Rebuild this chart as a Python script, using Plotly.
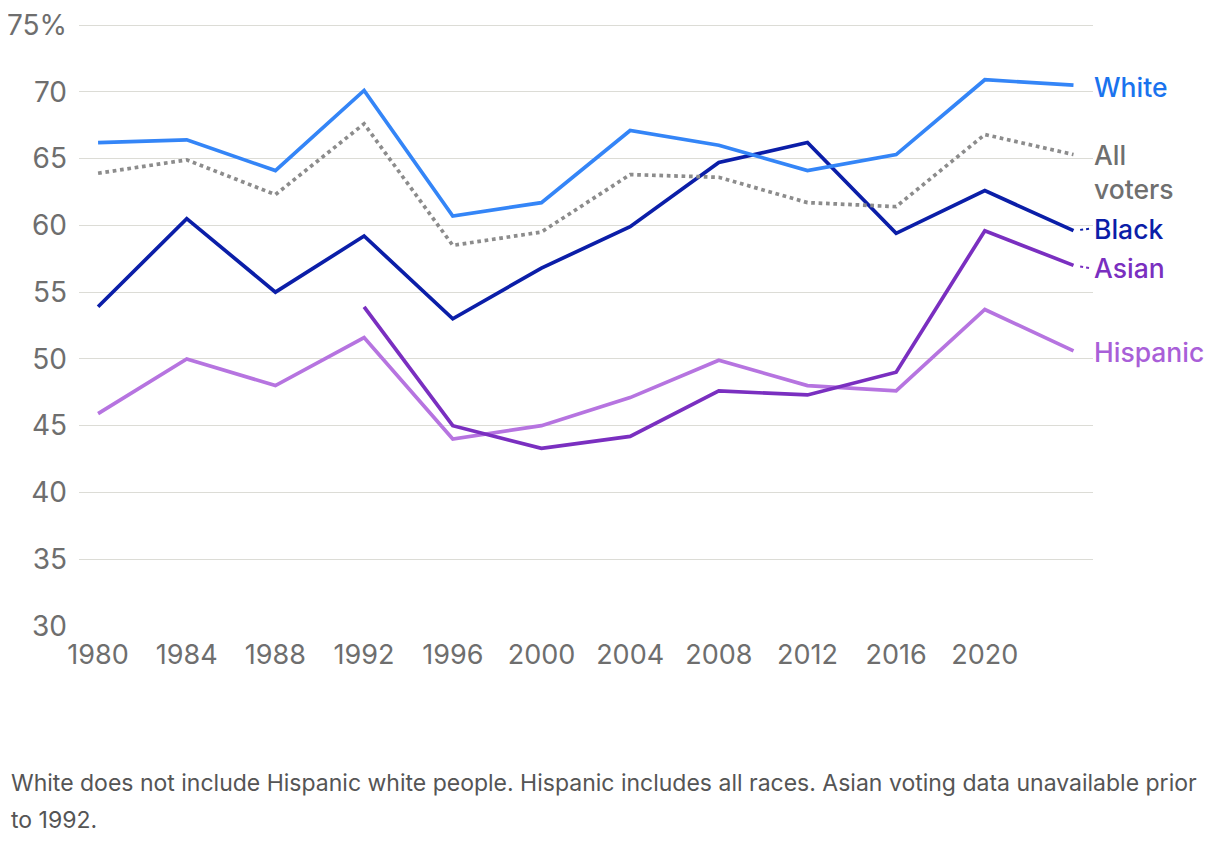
import plotly.graph_objects as go

years = [1980, 1984, 1988, 1992, 1996, 2000, 2004, 2008, 2012, 2016, 2020, 2024]
white = [66.2, 66.4, 64.1, 70.1, 60.7, 61.7, 67.1, 66.0, 64.1, 65.3, 70.9, 70.5]
all_voters = [63.9, 64.9, 62.3, 67.6, 58.5, 59.5, 63.8, 63.6, 61.7, 61.4, 66.8, 65.3]
black = [53.9, 60.5, 55.0, 59.2, 53.0, 56.8, 59.9, 64.7, 66.2, 59.4, 62.6, 59.6]
asian = [None, None, None, 53.9, 45.0, 43.3, 44.2, 47.6, 47.3, 49.0, 59.6, 57.0]
hispanic = [45.9, 50.0, 48.0, 51.6, 44.0, 45.0, 47.1, 49.9, 48.0, 47.6, 53.7, 50.6]

x_ticks = [1980, 1984, 1988, 1992, 1996, 2000, 2004, 2008, 2012, 2016, 2020]
y_ticks = [30, 35, 40, 45, 50, 55, 60, 65, 70, 75]
y_labels = ["30", "35", "40", "45", "50", "55", "60", "65", "70", "75%"]

FONT = "Inter"
C_WHITE = "#3485f7"
C_ALL = "#8c8c8c"
C_BLACK = "#0b1ea8"
C_ASIAN = "#7a2fc0"
C_HISP = "#b674e0"

fig = go.Figure()
series = [
    ("Hispanic", hispanic, C_HISP, "solid"),
    ("Asian", asian, C_ASIAN, "solid"),
    ("Black", black, C_BLACK, "solid"),
    ("All voters", all_voters, C_ALL, "dot"),
    ("White", white, C_WHITE, "solid"),
]
for name, vals, col, dash in series:
    fig.add_trace(go.Scatter(x=years, y=vals, mode="lines", name=name,
                             line=dict(color=col, width=3.7, dash=dash),
                             connectgaps=False, showlegend=False, hoverinfo="skip"))

labels = [
    ("White", 70.35, "#1a73ee"),
    ("All<br>voters", 64.0, "#6f6f6f"),
    ("Black", 59.75, C_BLACK),
    ("Asian", 56.8, C_ASIAN),
    ("Hispanic", 50.5, "#a95fd8"),
]
for text, yv, col in labels:
    fig.add_annotation(x=years[-1], y=yv, xref="x", yref="y", text=text,
                       showarrow=False, xanchor="left", yanchor="middle", xshift=19,
                       align="left",
                       font=dict(family=FONT, size=26.5, color=col, weight=500))

# small dotted connectors for Black and Asian labels
for vals, ly, col in [(black, 59.75, C_BLACK), (asian, 56.8, C_ASIAN)]:
    fig.add_shape(type="line", xref="x", yref="y",
                  x0=years[-1] + 0.3, y0=vals[-1] + (ly - vals[-1]) * 0.4,
                  x1=years[-1] + 0.75, y1=ly,
                  line=dict(color=col, width=2, dash="dot"))

note_lines = [
    "White does not include Hispanic white people. Hispanic includes all races. Asian voting data unavailable prior",
    "to 1992.",
]
for txt, yp in zip(note_lines, [-0.2595, -0.3207]):
    fig.add_annotation(xref="paper", yref="paper", x=-0.069, y=yp,
                       xanchor="left", yanchor="middle", align="left", showarrow=False,
                       text=txt, font=dict(family=FONT, size=23, color="#555555"))

fig.update_layout(
    width=1220, height=848,
    margin=dict(l=71, r=135, t=13, b=230, autoexpand=False),
    paper_bgcolor="white", plot_bgcolor="white",
    font=dict(family=FONT, color="#6e6e6e"),
    xaxis=dict(range=[1979.14, 2024.88], tickvals=x_ticks, ticktext=[str(v) for v in x_ticks],
               showgrid=False, zeroline=False, showline=False, ticks="",
               ticklabelstandoff=10, automargin=False,
               tickfont=dict(family=FONT, size=27, color="#6e6e6e")),
    yaxis=dict(range=[30, 75.3], tickvals=y_ticks, ticktext=y_labels,
               showgrid=True, gridcolor="#dcdcd6", gridwidth=1.2, zeroline=False,
               showline=False, ticks="", ticklabelstandoff=11, automargin=False,
               ticklabeloverflow="allow",
               tickfont=dict(family=FONT, size=28, color="#6e6e6e")),
)

fig.write_html("out.html")
